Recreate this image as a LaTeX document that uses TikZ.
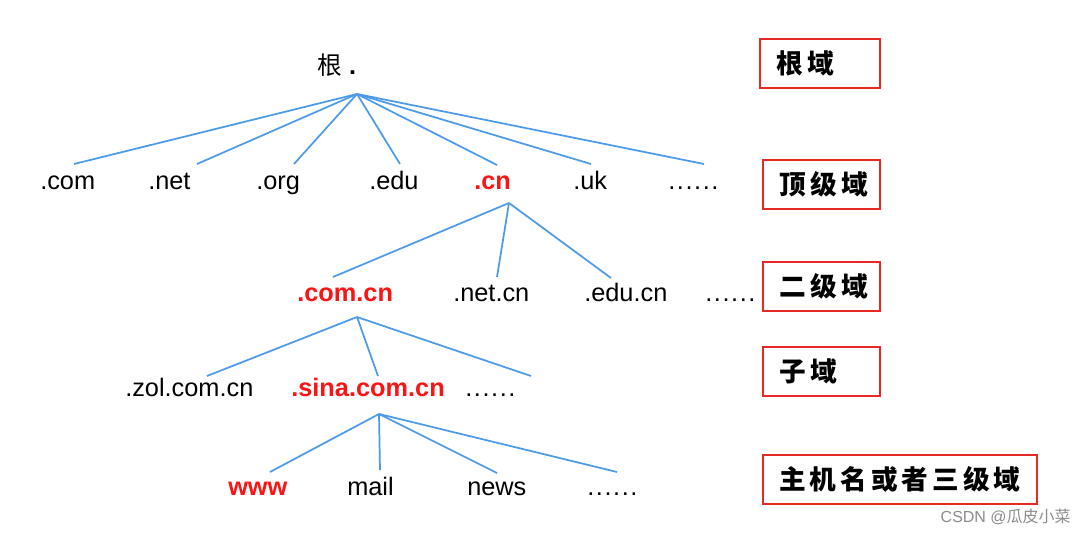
\documentclass[tikz,border=0pt]{standalone}
\usepackage{fontspec}
\setmainfont{Liberation Sans}
\newfontfamily\cjk{Noto Sans CJK SC}
\definecolor{linkblue}{RGB}{77,155,232}
\definecolor{boxred}{RGB}{232,40,36}
\definecolor{hired}{RGB}{250,20,20}
\newcommand\ks{\kern3.6pt}
\newcommand\kb{\kern3pt}
\newcommand\dotsix{.\kern1.2pt.\kern1.2pt.\kern1.2pt.\kern1.2pt.\kern1.2pt.}
\begin{document}
\begin{tikzpicture}[x=0.75pt,y=-0.75pt,
  link/.style={draw=linkblue,line width=1.3pt},
  dom/.style={anchor=base west,inner sep=0pt,font=\fontsize{19}{22}\selectfont},
  hot/.style={dom,text=hired,font=\fontsize{19}{22}\selectfont\bfseries},
  lvl/.style={draw=boxred,line width=1.5pt,anchor=west,align=left,inner xsep=12pt,inner ysep=0pt,minimum height=36.75pt,font=\cjk\bfseries\fontsize{20}{22}\selectfont}]
\useasboundingbox[fill=white] (0,0) rectangle (1086,535);
% root
\node[anchor=center,inner sep=0pt] (root) at (337,65) {{\cjk\fontsize{18.5}{20}\selectfont 根}\kern5pt{\fontsize{19}{22}\selectfont\bfseries .}};
\coordinate (r) at (357,94);
% level 1
\node[dom] (com) at (40,190) {.com};
\node[dom] (net) at (148,190) {.net};
\node[dom] (org) at (256,190) {.org};
\node[dom] (edu) at (369,190) {.edu};
\node[hot] (cn) at (474,190) {.cn};
\node[dom] (uk) at (573,190) {.uk};
\node[dom] (d1) at (668,190) {\dotsix};
\coordinate (e1) at (74,164);
\coordinate (e2) at (197,164);
\coordinate (e3) at (294,164);
\coordinate (e4) at (400,164);
\coordinate (e5) at (497,165);
\coordinate (e6) at (591,164);
\coordinate (e7) at (704,164);
\foreach \e in {e1,e2,e3,e4,e5,e6,e7} \draw[link] (r) -- (\e);
% level 2
\coordinate (cnj) at (509,203);
\node[hot] (comcn) at (297,301) {.com.cn};
\node[dom] (netcn) at (453,301) {.net.cn};
\node[dom] (educn) at (584,301) {.edu.cn};
\node[dom] (d2) at (705,301) {\dotsix};
\coordinate (f1) at (333,277);
\coordinate (f2) at (497,277);
\coordinate (f3) at (611,278);
\foreach \e in {f1,f2,f3} \draw[link] (cnj) -- (\e);
% level 3
\coordinate (comj) at (357,317);
\node[dom] (zol) at (125,396) {.zol.com.cn};
\node[hot] (sina) at (291,396) {.sina.com.cn};
\node[dom] (d3) at (465,396) {\dotsix};
\coordinate (g1) at (207,376);
\coordinate (g2) at (378,376);
\coordinate (g3) at (531,376);
\foreach \e in {g1,g2,g3} \draw[link] (comj) -- (\e);
% level 4
\coordinate (sinaj) at (379,414);
\node[hot] (www) at (228,495) {www};
\node[dom] (mail) at (347,495) {mail};
\node[dom] (news) at (467,495) {news};
\node[dom] (d4) at (587,495) {\dotsix};
\coordinate (h1) at (270,472);
\coordinate (h2) at (380,470);
\coordinate (h3) at (497,473);
\coordinate (h4) at (617,472);
\foreach \e in {h1,h2,h3,h4} \draw[link] (sinaj) -- (\e);
% level boxes
\node[lvl,text width=66pt] (b1) at (759,63.5) {根\ks 域};
\node[lvl,text width=63.75pt] (b2) at (762,184.5) {顶\ks 级\ks 域};
\node[lvl,text width=63.75pt] (b3) at (762,286.5) {二\ks 级\ks 域};
\node[lvl,text width=63.75pt] (b4) at (762,371.5) {子\ks 域};
\node[lvl,text width=181.5pt] (b5) at (762,479.5) {主\kb 机\kb 名\kb 或\kb 者\kb 三\kb 级\kb 域};
% watermark
\node[anchor=east,inner sep=0pt,text=black!45,font=\fontsize{12}{14}\selectfont] (wm) at (1071,517) {CSDN @{\cjk 瓜皮小菜}};
\end{tikzpicture}
\end{document}
